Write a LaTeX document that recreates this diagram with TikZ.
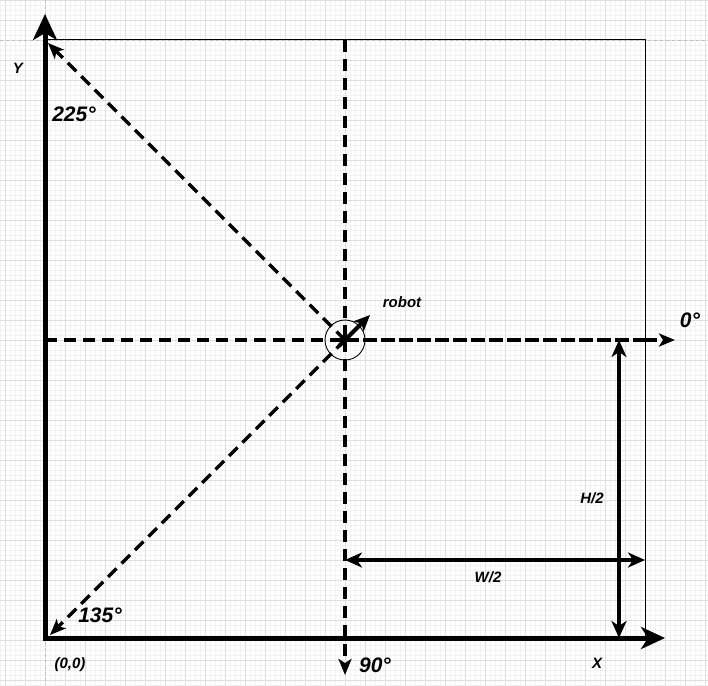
\documentclass[tikz,border=0pt]{standalone}
\usepackage{fontspec}
\setmainfont{Liberation Sans}
\usetikzlibrary{arrows.meta, positioning, calc}
\definecolor{gridmajor}{RGB}{222,222,222}
\definecolor{gridminor}{RGB}{242,242,242}
\definecolor{guidegray}{RGB}{190,190,190}

\begin{document}
\begin{tikzpicture}[x=1pt, y=-1pt,
    axis/.style={line width=5pt},
    ray/.style={line width=3.2pt, dash pattern=on 12pt off 7pt},
    raytip/.style={-{Stealth[length=16pt, width=13pt, inset=4pt]}},
    dimline/.style={line width=3.2pt, {Stealth[length=17pt, width=15pt, inset=5pt]}-{Stealth[length=17pt, width=15pt, inset=5pt]}},
    lbl/.style={font=\bfseries\itshape\fontsize{15}{18}\selectfont, inner sep=0pt},
    anglbl/.style={font=\bfseries\itshape\fontsize{21}{25}\selectfont, inner sep=0pt}]
  \useasboundingbox (0,0) rectangle (708,685);
  \fill[white] (0,0) rectangle (708,685);

  % background grid
  \foreach \gx in {0.5,5.5,...,708} \draw[gridminor, line width=0.6pt] (\gx,0) -- (\gx,685);
  \foreach \gy in {0,5,...,685} \draw[gridminor, line width=0.6pt] (0,\gy) -- (708,\gy);
  \foreach \gx in {5.5,25.5,...,708} \draw[gridmajor, line width=0.9pt] (\gx,0) -- (\gx,685);
  \foreach \gy in {0,20,...,685} \draw[gridmajor, line width=0.9pt] (0,\gy) -- (708,\gy);
  \draw[guidegray, dashed, line width=0.6pt] (0,40) -- (708,40);
  \draw[guidegray, dashed, line width=0.6pt] (45,0) -- (45,685);

  % named points
  \coordinate (origin) at (45,638);
  \coordinate (corner) at (45,640.5);
  \coordinate (ytip) at (45,14);
  \coordinate (xtip) at (665,638);
  \coordinate (center) at (345,340);
  \coordinate (west) at (45,340);
  \coordinate (edge) at (645,340);
  \coordinate (east) at (675,340);
  \coordinate (north) at (345,40);
  \coordinate (south) at (345,675);
  \coordinate (nw) at (48,43);
  \coordinate (sw) at (50,635);
  \coordinate (tail) at (339,346);
  \coordinate (head) at (370,315);
  \coordinate (hbot) at (619,638);
  \coordinate (htop) at (619,340);
  \coordinate (wleft) at (345,560);
  \coordinate (wright) at (645,560);

  % frame
  \draw[line width=1pt] (45,40) rectangle (645,638);

  % rays from the robot
  \draw[ray] (west) -- (center);
  \draw[line width=3.2pt, dash pattern=on 14pt off 4pt] (center) -- (edge);
  \draw[ray, raytip] (edge) -- (east);
  \draw[ray] (north) -- (center);
  \draw[ray, raytip] (center) -- (south);
  \draw[ray, raytip] (center) -- (nw);
  \draw[ray, raytip] (center) -- (sw);

  % robot
  \node[draw, circle, minimum size=40pt, inner sep=0pt, line width=0.9pt] (robot) at (center) {};
  \draw[line width=4pt, -{Stealth[length=16pt, width=14pt, inset=4pt]}] (tail) -- (head);

  % axes
  \draw[axis, -{Stealth[length=26pt, width=24pt, inset=7pt]}] (corner) -- (ytip);
  \draw[axis, -{Stealth[length=24pt, width=22pt, inset=7pt]}] (origin) -- (xtip);

  % half sizes
  \draw[dimline] (hbot) -- (htop);
  \draw[dimline] (wleft) -- (wright);

  % labels
  \node[lbl] (ylabel) at (18,68) {Y};
  \node[lbl] (xlabel) at (597,663) {X};
  \node[lbl] (olabel) at (70,665) {(0,0)};
  \node[lbl] (rlabel) at (402,302) {robot};
  \node[lbl] (hlabel) at (592,498) {H/2};
  \node[lbl] (wlabel) at (488,577) {W/2};
  \node[anglbl] (deg0) at (690,320) {0°};
  \node[anglbl] (deg90) at (375,665) {90°};
  \node[anglbl] (deg135) at (100,615) {135°};
  \node[anglbl] (deg225) at (74,114) {225°};
\end{tikzpicture}
\end{document}
